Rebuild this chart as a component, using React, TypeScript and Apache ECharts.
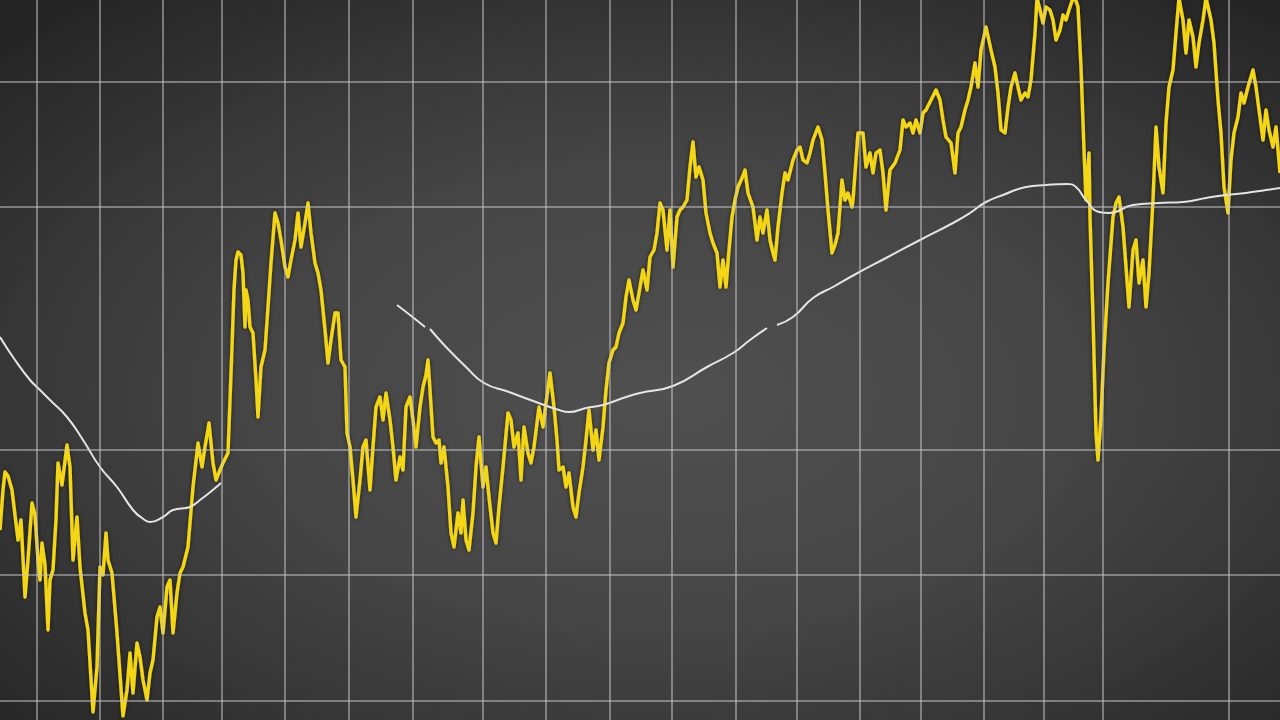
import React, { useEffect, useRef } from "react";
import * as echarts from "echarts";

// Yellow price series (day index, price)
const priceDays = [
  0, 3, 5, 8, 12, 15, 18, 21, 25, 28, 32, 35, 38, 40, 42, 45, 48, 50, 53, 56, 58, 62, 67, 70, 73, 77, 80, 85, 88, 93,
  97, 100, 103, 106, 108, 112, 117, 123, 127, 130, 133, 137, 140, 143, 147, 150, 153, 157, 160, 163, 167, 170, 173,
  177, 180, 183, 188, 193, 198, 202, 205, 209, 213,
  216, 220, 223, 228, 230, 232, 234, 236, 238, 241, 243, 245, 246, 248, 250, 253, 256, 258, 261, 265, 268, 271, 275,
  278, 281, 285, 288, 291, 295, 298, 301, 305, 308, 311, 315, 318, 321, 325, 328, 331, 335, 338, 341, 345, 347, 350,
  353, 356, 360, 363, 366, 370, 373, 376, 380, 383, 386, 390, 393, 396, 400, 403, 406, 410, 413, 416, 420, 423, 426,
  428, 430, 433, 436, 439, 441, 444, 448, 451, 454, 458, 461, 463, 466, 469, 473, 476, 479, 483, 486, 489, 493, 496,
  499, 503, 508, 511, 514, 518, 521, 524, 528, 531, 534, 539, 543, 546, 550, 554, 557, 559, 563, 566, 569, 573, 576,
  579, 583, 586, 589, 593, 596, 599, 603, 606, 609, 613, 616, 619, 623, 626, 629, 633, 636, 639,
  643, 647, 650, 654, 657, 660, 663, 667, 670, 673, 677, 680, 683, 687, 690, 693, 696, 699, 703, 706, 710, 713, 717,
  720, 723, 726, 729, 732, 735, 738, 742, 745, 748, 753, 757, 760, 763, 767, 770, 773, 775, 778, 782, 785, 788, 793,
  797, 800, 803, 807, 810, 813, 818, 822, 825, 828, 832, 835, 838, 842, 845, 848, 852,
  853, 858, 863, 866, 870, 873, 876, 880, 883, 886, 890, 895, 900, 903, 906, 910, 913, 916, 920, 923, 926, 931, 936,
  940, 943, 946, 951, 955, 958, 961, 965, 968, 971, 975, 978, 981, 986, 991, 995, 998, 1001, 1005, 1008, 1011, 1015,
  1018, 1021, 1025, 1028, 1031, 1035, 1037, 1040, 1043, 1046, 1050, 1053, 1056, 1060, 1063,
  1066, 1069, 1074, 1078, 1081, 1084, 1086, 1089, 1090, 1093, 1096, 1098, 1101, 1104, 1108, 1113, 1116, 1119, 1123,
  1126, 1129, 1133, 1136, 1139, 1143, 1146, 1149, 1153, 1156, 1159, 1163, 1166, 1169, 1173, 1176, 1179, 1183, 1186,
  1189, 1193, 1196, 1199, 1203, 1206, 1211, 1214, 1218, 1221, 1224, 1228, 1231, 1234, 1238, 1241, 1244, 1248, 1253,
  1256, 1259, 1263, 1266, 1269, 1273, 1276, 1280,
];

const priceValues = [
  190, 230, 248, 244, 230, 205, 180, 200, 123, 160, 217, 205, 160, 140, 177, 155, 90, 140, 150, 200, 257, 235, 275,
  253, 160, 203, 153, 107, 90, 8, 53, 153, 145, 187, 160, 147, 87, 4, 30, 67, 27, 77, 63, 40, 20, 47, 60, 103, 113,
  87, 133, 140, 87, 127, 147, 153, 173, 233, 277, 253, 273, 297, 257,
  240, 250, 257, 267, 320, 373, 430, 460, 468, 465, 447, 393, 430, 420, 393, 387, 340, 303, 353, 370, 413, 457, 507,
  497, 480, 453, 443, 460, 480, 507, 473, 497, 517, 487, 457, 447, 430, 390, 357, 380, 407, 407, 360, 353, 287, 273,
  240, 203, 240, 273, 280, 230, 273, 313, 323, 300, 327, 300, 273, 240, 263, 250, 313, 323, 300, 273, 313, 333, 345,
  360, 330, 283, 277, 280, 257, 273, 233, 187, 173, 207, 187, 220, 180, 170, 207, 253, 283, 233, 253, 223, 187, 177,
  213, 253, 307, 300, 273, 287, 240, 293, 267, 257, 273, 313, 293, 317, 347, 313, 280, 250, 253, 233, 247, 213, 203,
  227, 253, 280, 310, 270, 290, 260, 293, 330, 357, 370, 373, 387, 397, 423, 440, 420, 410, 427,
  450, 430, 463, 470, 487, 517, 510, 470, 510, 453, 503, 510, 513, 520, 553, 578, 543, 553, 540, 507, 487, 477, 467,
  433, 460, 433, 470, 503, 520, 533, 542, 550, 527, 513, 480, 503, 487, 510, 480, 467, 460, 493, 527, 547, 540, 560,
  570, 573, 560, 557, 567, 580, 593, 580, 547, 510, 467, 475, 487, 540, 520, 527, 513,
  520, 587, 587, 553, 567, 547, 567, 570, 547, 510, 550, 557, 570, 600, 593, 597, 587, 600, 587, 607, 610, 620, 630,
  620, 600, 583, 577, 547, 587, 593, 610, 620, 633, 657, 633, 670, 693, 670, 653, 627, 590, 587, 613, 633, 647,
  633, 620, 627, 623, 640, 687, 722, 710, 697, 713, 710, 700, 680, 690, 705,
  700, 710, 725, 713, 653, 570, 520, 567, 503, 403, 287, 260, 303, 370, 437, 503, 517, 523, 493,
  453, 413, 470, 480, 437, 460, 413, 447, 520, 593, 553, 527, 597, 633, 650, 687, 722, 700, 667,
  700, 683, 653, 677, 700, 722, 700, 677, 620, 587, 533, 507, 560, 587, 603, 627, 617, 633, 650,
  633, 610, 580, 610, 590, 573, 593, 547,
];

// White moving average (null = gap in the line)
const avgDays = [
  0, 15, 30, 40, 50, 67, 83, 100, 117, 133, 142, 150, 163, 173, 190, 200, 214, 221,
  300,
  397, 410, 425, 427, 430, 446, 466, 484, 509, 536, 559, 569, 586, 603, 626, 640, 673, 707, 733, 750, 767,
  772,
  777, 793, 813, 833, 854, 886, 920, 953, 970, 986, 1003, 1026, 1046, 1067, 1076, 1086, 1099, 1109, 1133, 1159,
  1183, 1206, 1226, 1246, 1266, 1280,
];
const avgValues: (number | null)[] = [
  383, 360, 340, 330, 320, 303, 280, 253, 233, 210, 202, 198, 203, 210, 213, 220, 231, 237,
  null,
  415, 405, 393, null, 391, 373, 353, 337, 328, 318, 310, 308, 312, 315, 323, 327, 334, 353, 367, 380, 392,
  null,
  395, 403, 422, 433, 445, 462, 480, 497, 507, 518, 525, 533, 535, 536, 533, 520, 508, 507, 515, 517,
  518, 522, 525, 527, 530, 532,
];

// Grid line positions
const xGridTicks = [37, 100, 163, 222, 285, 349, 413, 483, 546, 610, 672, 736, 797, 860, 921, 984, 1044, 1103, 1229];
const yGridTicks = [19, 145, 270, 513, 638];

export default function App() {
  const ref = useRef<HTMLDivElement>(null);

  useEffect(() => {
    if (!ref.current) return;
    const chart = echarts.init(ref.current, null, { renderer: "svg" });

    const pricePoints = priceDays.map((d, i) => [d, priceValues[i]]);
    const avgPoints = avgDays.map((d, i) => [d, avgValues[i] === null ? "-" : avgValues[i]]);

    const option: any = {
      animation: false,
      backgroundColor: "#2a2a2a",
      graphic: [
        {
          type: "rect",
          silent: true,
          z: -10,
          x: 0,
          y: 0,
          scaleX: 1280 / 720,
          shape: { x: 0, y: 0, width: 720, height: 720 },
          style: {
            fill: new echarts.graphic.RadialGradient(0.52, 0.55, 0.72, [
              { offset: 0, color: "#505050" },
              { offset: 0.45, color: "#454545" },
              { offset: 0.72, color: "#363636" },
              { offset: 1, color: "#242424" },
            ]),
          },
        },
      ],
      grid: { left: 0, right: 0, top: 0, bottom: 0, containLabel: false },
      xAxis: {
        type: "value",
        min: 0,
        max: 1280,
        show: false,
        splitLine: { show: false },
      },
      yAxis: {
        type: "value",
        min: 0,
        max: 720,
        show: false,
        splitLine: { show: false },
      },
      series: [
        {
          name: "grid",
          type: "line",
          data: [],
          z: 1,
          silent: true,
          markLine: {
            silent: true,
            symbol: ["none", "none"],
            label: { show: false },
            emphasis: { disabled: true },
            lineStyle: { color: "rgba(200,200,200,0.5)", width: 2, type: "solid" },
            data: [
              ...xGridTicks.map((v) => ({ xAxis: v })),
              ...yGridTicks.map((v) => ({ yAxis: v })),
            ],
          },
        },
        {
          name: "price",
          type: "line",
          data: pricePoints,
          z: 3,
          symbol: "none",
          silent: true,
          lineStyle: {
            color: "#f3d612",
            width: 3.4,
            join: "round",
            shadowColor: "rgba(0,0,0,0.6)",
            shadowBlur: 4,
          },
        },
        {
          name: "average",
          type: "line",
          data: avgPoints,
          z: 4,
          symbol: "none",
          silent: true,
          smooth: 0.5,
          connectNulls: false,
          lineStyle: { color: "#e4e4e4", width: 2 },
        },
      ],
    };

    chart.setOption(option);
    const onResize = () => chart.resize();
    window.addEventListener("resize", onResize);
    return () => {
      window.removeEventListener("resize", onResize);
      chart.dispose();
    };
  }, []);

  return (
    <div
      ref={ref}
      style={{ position: "fixed", left: 0, top: 0, width: "100vw", height: "100vh" }}
    />
  );
}
